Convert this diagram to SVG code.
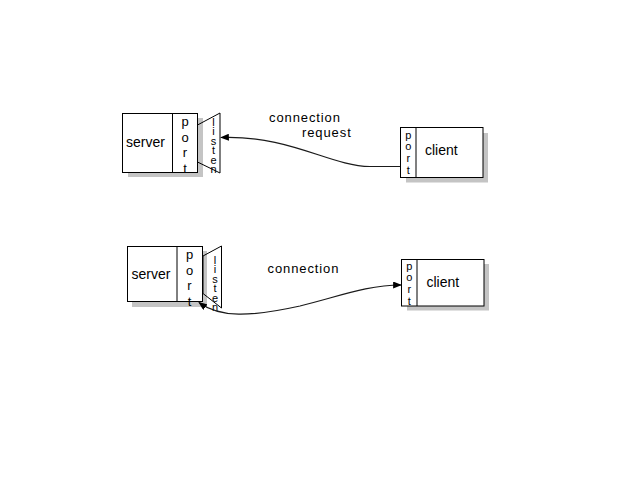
<svg xmlns="http://www.w3.org/2000/svg" width="638" height="479" viewBox="0 0 638 479">
<style>
.bg{fill:#ffffff}
.shadow{fill:#c4c4c4;stroke:none}
.box{fill:#ffffff;stroke:#000000;stroke-width:1}
.div{stroke:#000000;stroke-width:1;fill:none}
.trap{fill:none;stroke:#000000;stroke-width:1}
.t{font-family:"Liberation Sans",Arial,sans-serif;font-size:14px;fill:#000000}
.lb{font-family:"Liberation Sans",Arial,sans-serif;font-size:13px;fill:#000000;letter-spacing:0.9px}
.v{font-family:"Liberation Sans",Arial,sans-serif;fill:#000000;writing-mode:vertical-rl;text-orientation:upright}
.pl{font-size:13px;letter-spacing:0.5px}
.ps{font-size:11px;letter-spacing:-0.3px}
.ls{font-size:11px;letter-spacing:-2.6px}
.conn{fill:none;stroke:#1a1a1a;stroke-width:1.2}
</style>
<defs>
<marker id="ah" viewBox="0 0 10 8" refX="9" refY="4" markerWidth="9" markerHeight="7" markerUnits="userSpaceOnUse" orient="auto-start-reverse">
<path d="M0,0 L10,4 L0,8 Z" fill="#000000"/>
</marker>
</defs>
<rect class="bg" x="0" y="0" width="638" height="479"/>

<g id="server1">
<rect class="shadow" x="128" y="118" width="75" height="59"/>
<rect class="box" x="122.5" y="113.5" width="75" height="59"/>
<line class="div" x1="172.5" y1="113.5" x2="172.5" y2="172.5"/>
<text class="t" x="126" y="147">server</text>
<text class="v pl" x="185" y="114">port</text>
</g>

<g id="listen1">
<polygon class="trap" points="197.5,125 220,113 220,173 197.5,162"/>
<text class="v ls" x="213.5" y="116">listen</text>
</g>

<g id="client1">
<rect class="shadow" x="406" y="133" width="82" height="49.5"/>
<rect class="box" x="400.5" y="127.5" width="82.5" height="50"/>
<line class="div" x1="416" y1="127.5" x2="416" y2="177.5"/>
<text class="t" x="425" y="155">client</text>
<text class="v ps" x="408.3" y="128.5">port</text>
</g>

<g id="label1">
<text class="lb" x="269" y="122">connection</text>
<text class="lb" x="302" y="136.5">request</text>
</g>

<g id="server2">
<rect class="shadow" x="132" y="251" width="75" height="56"/>
<rect class="box" x="127.5" y="246.5" width="75" height="55"/>
<line class="div" x1="177" y1="246.5" x2="177" y2="301.5"/>
<text class="t" x="131.5" y="278.5">server</text>
<text class="v pl" x="189.5" y="247">port</text>
</g>

<g id="listen2">
<polygon class="trap" points="203,256 221.5,246 221.5,308 203,293.5"/>
<text class="v ls" x="215" y="254">listen</text>
</g>

<g id="client2">
<rect class="shadow" x="407" y="264" width="82" height="46.5"/>
<rect class="box" x="401.5" y="259.5" width="82.5" height="46.5"/>
<line class="div" x1="417" y1="259.5" x2="417" y2="306"/>
<text class="t" x="426.5" y="286.5">client</text>
<text class="v ps" x="409.3" y="259.5">port</text>
</g>

<g id="label2">
<text class="lb" x="267.5" y="272.5" letter-spacing="0.75">connection</text>
</g>

<g id="connectors">
<path class="conn" d="M400,166.5 L370,166.5 C330,166 290,135 221,137.5" marker-end="url(#ah)"/>
<path class="conn" d="M199,302.5 C220,318 250,317 300,306 C340,296 368,285 401,285" marker-start="url(#ah)" marker-end="url(#ah)"/>
</g>
</svg>
